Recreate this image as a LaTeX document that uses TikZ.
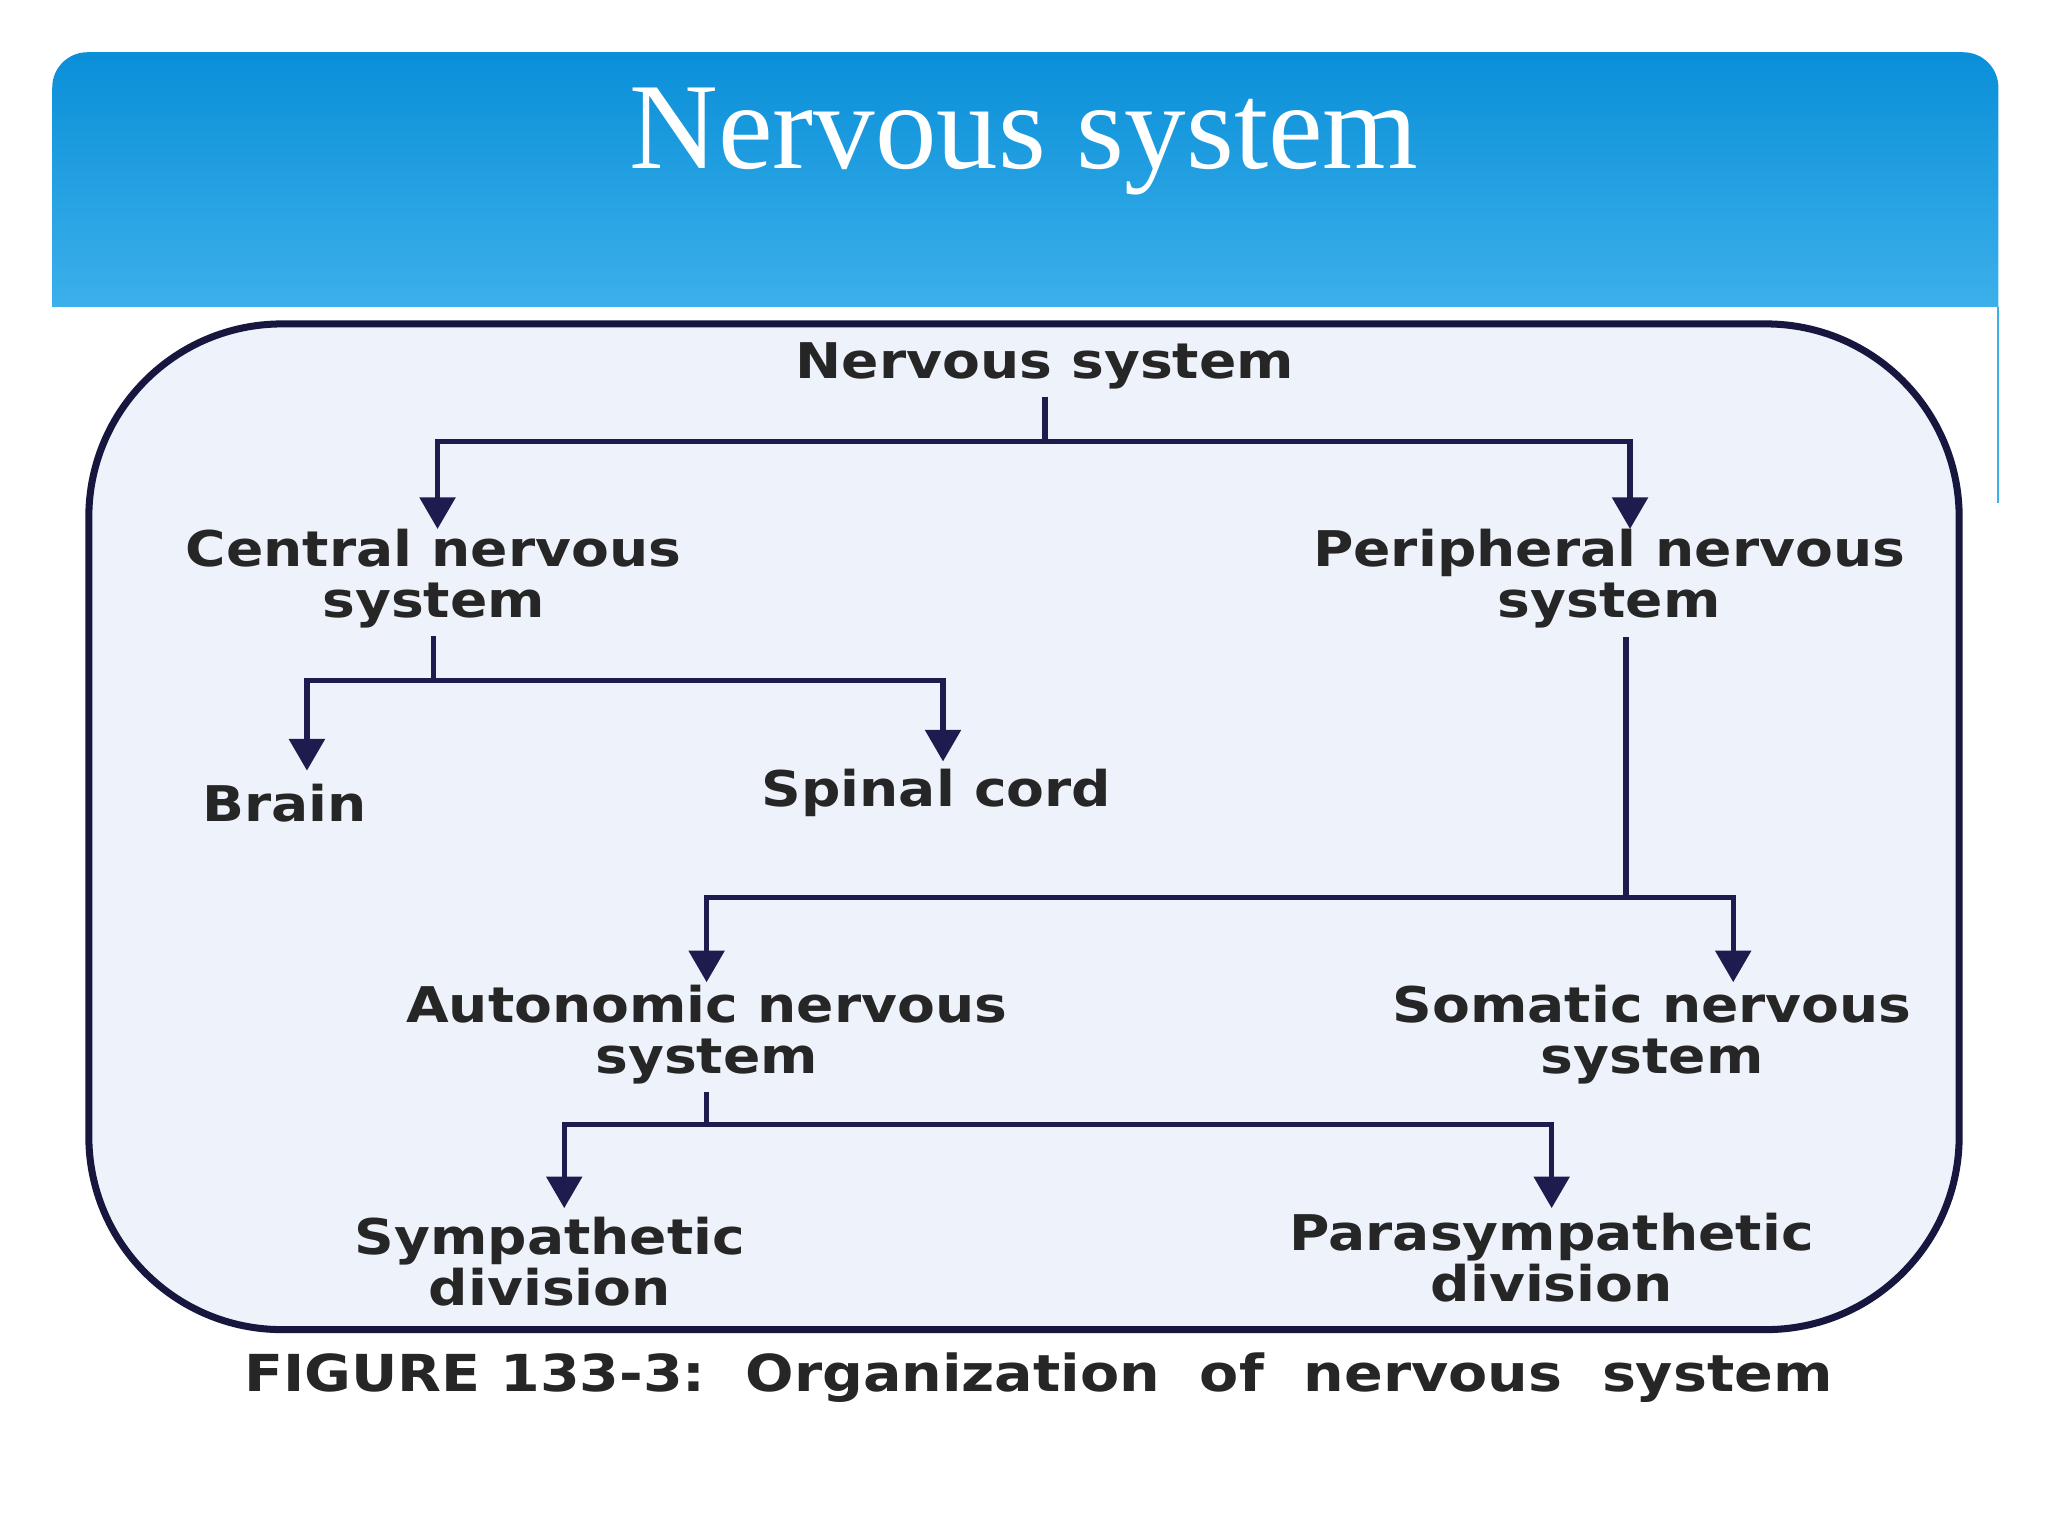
\documentclass[tikz,border=0pt]{standalone}
\usepackage{fontspec}
\setmainfont{Liberation Serif}
\newfontfamily\djsans[FakeStretch=1.12]{DejaVu Sans}
\usetikzlibrary{arrows.meta}
\definecolor{hdtop}{HTML}{0A8FD8}
\definecolor{hdbot}{HTML}{3CB0EA}
\definecolor{navy}{HTML}{1C1C4E}
\definecolor{boxfill}{HTML}{EEF2FB}
\begin{document}
\begin{tikzpicture}[x=0.01306cm,y=-0.01306cm,
  lbl/.style={font=\djsans\bfseries\fontsize{14}{14.5}\selectfont,align=center,text=black!85,inner sep=2pt},
  ln/.style={draw=navy,line width=1.5pt},
  arr/.style={ln,-{Triangle[length=9pt,width=10pt]}}]
\useasboundingbox (0,0) rectangle (1568,1176);
\fill[white] (0,0) rectangle (1568,1176);
\shade[top color=hdtop,bottom color=hdbot] (40,235) [rounded corners=10] -- (40,40) -- (1530,40) [sharp corners] -- (1530,235) -- cycle;
\draw[hdbot,line width=0.6pt] (1530,235) -- (1530,385);
\node[text=white,font=\fontsize{35}{40}\selectfont] (title) at (784,108) {Nervous system};
\draw[draw=navy!80!black,line width=2pt,fill=boxfill,rounded corners=55] (68,248) rectangle (1500,1018);
\node[lbl] (ns) at (800,280) {Nervous system};
\node[lbl] (cns) at (332,443) {Central nervous\\system};
\node[lbl] (pns) at (1232,443) {Peripheral nervous\\system};
\node[lbl] (brain) at (218,615) {Brain};
\node[lbl] (spinal) at (717,607) {Spinal cord};
\node[lbl] (ans) at (541,792) {Autonomic nervous\\system};
\node[lbl] (sns) at (1265,792) {Somatic nervous\\system};
\node[lbl] (symp) at (421,966) {Sympathetic\\division};
\node[lbl] (para) at (1188,963) {Parasympathetic\\division};
\node[font=\djsans\bfseries\fontsize{14.5}{16}\selectfont,text=black!85] (cap) at (795,1055) {FIGURE 133-3:\ \ Organization\ \ of\ \ nervous\ \ system};
\coordinate (j1) at (800,338);
\coordinate (a1) at (335,405); \coordinate (a2) at (1248,405);
\draw[ln] (ns.south) -- (j1);
\draw[arr] (j1) -| (a1);
\draw[arr] (j1) -| (a2);
\coordinate (j2) at (332,521);
\coordinate (b1) at (235,590); \coordinate (b2) at (722,583);
\draw[ln] (cns.south) -- (j2);
\draw[arr] (j2) -| (b1);
\draw[arr] (j2) -| (b2);
\coordinate (j3) at (1245,687);
\coordinate (c1) at (541,752); \coordinate (c2) at (1327,752);
\draw[ln] (1245,488) -- (j3);
\draw[arr] (j3) -| (c1);
\draw[arr] (j3) -| (c2);
\coordinate (j4) at (541,861);
\coordinate (d1) at (432,925); \coordinate (d2) at (1188,925);
\draw[ln] (ans.south) -- (j4);
\draw[arr] (j4) -| (d1);
\draw[arr] (j4) -| (d2);
\end{tikzpicture}
\end{document}
